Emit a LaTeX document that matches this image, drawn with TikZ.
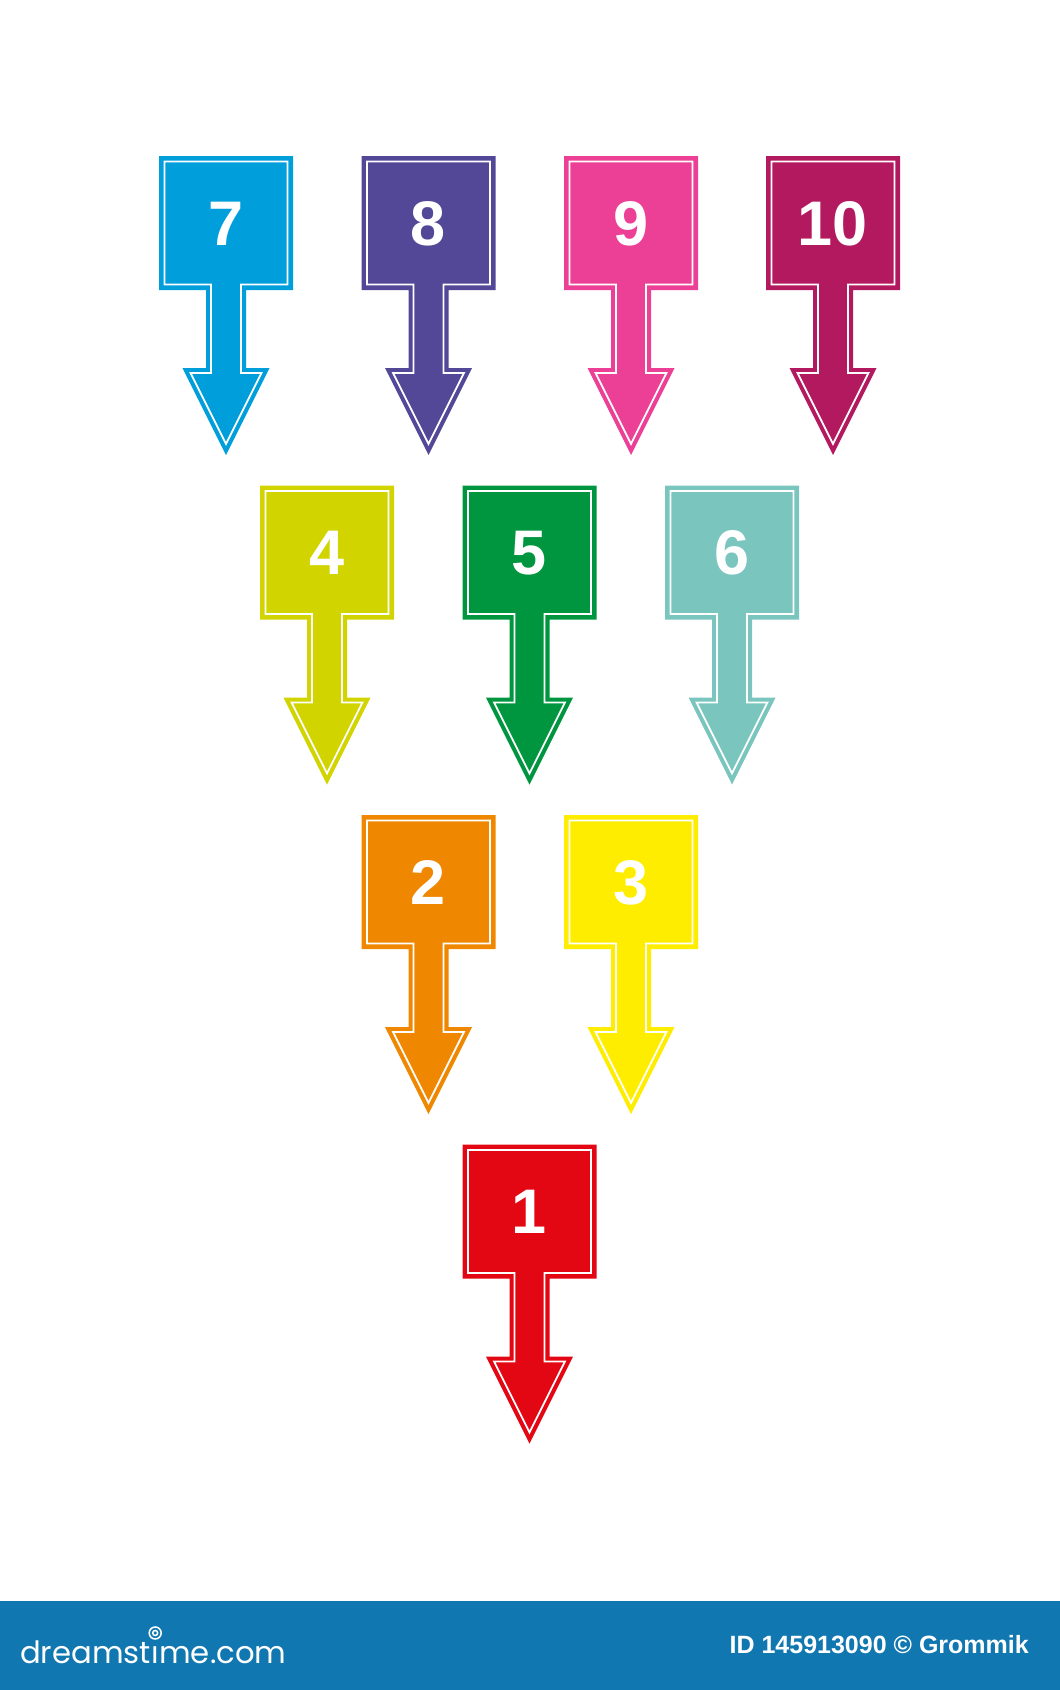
\documentclass[tikz,border=0pt]{standalone}
\usepackage{fontspec}
\setmainfont{Liberation Sans}
\newfontfamily\logofont{Poppins}
\usetikzlibrary{positioning}
\definecolor{pincyan}{HTML}{009FDB}
\definecolor{pinviolet}{HTML}{534798}
\definecolor{pinpink}{HTML}{EC4096}
\definecolor{pinwine}{HTML}{B2195F}
\definecolor{pinlime}{HTML}{D2D400}
\definecolor{pingreen}{HTML}{009640}
\definecolor{pinteal}{HTML}{7AC6BF}
\definecolor{pinorange}{HTML}{EF8800}
\definecolor{pinyellow}{HTML}{FFED00}
\definecolor{pinred}{HTML}{E30613}
\definecolor{barblue}{HTML}{1177B0}
\tikzset{
  pinline/.style={draw=white, line width=1.8pt, line join=miter},
  pinnum/.style={text=white, inner sep=0pt, anchor=base, font=\bfseries\fontsize{63}{63}\selectfont},
  logotext/.style={inner sep=0pt, text=white, font=\logofont\fontsize{30.7}{30.7}\selectfont},
}
\begin{document}
\begin{tikzpicture}[x=1pt,y=-1pt]
\useasboundingbox (0,0) rectangle (1060,1690);
\pgfmathsetmacro{\w}{67}
\pgfmathsetmacro{\s}{20}
\pgfmathsetmacro{\h}{43.5}
\foreach \cx/\ty/\col/\n in {226/156/pincyan/7, 428.5/156/pinviolet/8, 631/156/pinpink/9, 833/156/pinwine/10,
    327/485.5/pinlime/4, 529.5/485.5/pingreen/5, 732/485.5/pinteal/6,
    428.5/815/pinorange/2, 631/815/pinyellow/3,
    529.5/1144.5/pinred/1}{
  \begin{scope}[shift={(\cx,\ty)}]
  % outer shape
  \fill[\col] (-\w,0) -- (\w,0) -- (\w,134) -- (\s,134) -- (\s,212) -- (\h,212) -- (0,299)
    -- (-\h,212) -- (-\s,212) -- (-\s,134) -- (-\w,134) -- cycle;
  % inner white outline
  \draw[pinline] (-61.5,5.5) -- (61.5,5.5) -- (61.5,128.5) -- (15,128.5) -- (15,217) -- (35.4,217) -- (0,287.8)
    -- (-35.4,217) -- (-15,217) -- (-15,128.5) -- (-61.5,128.5) -- cycle;
  \node[pinnum] (num\n) at (0,89) {\n};
  \end{scope}
}
% bottom bar
\fill[barblue] (0,1601) rectangle (1060,1690);
\node[logotext, anchor=base west] (site) at (20,1663) {dreamst};
\node[logotext, anchor=base west] (sitei) at (site.base east) {ı};
\node[logotext, anchor=base west] (sitetail) at (sitei.base east) {me.com};
\draw[white, line width=1.5pt] ([yshift=13pt]sitei.north) circle (6) ([yshift=13pt]sitei.north) circle (2.5);
\node[anchor=base east, inner sep=0pt, text=white, font=\bfseries\fontsize{25}{25}\selectfont] (credit) at (1029,1653) {ID 145913090 © Grommik};
\end{tikzpicture}
\end{document}
